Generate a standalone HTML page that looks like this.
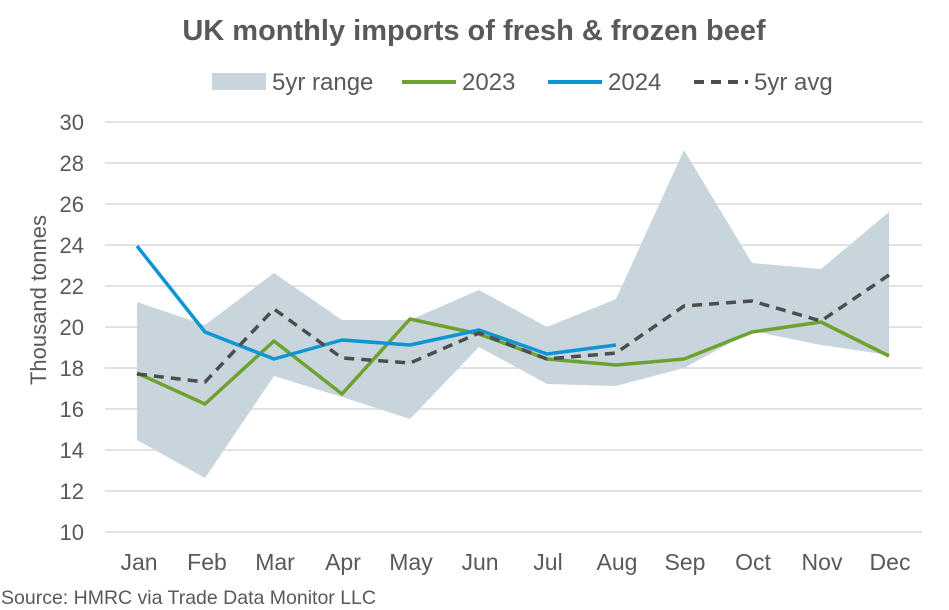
<!DOCTYPE html>
<html><head><meta charset="utf-8"><style>
body{margin:0;background:#fff}
svg{display:block;font-family:"Liberation Sans",Arial,sans-serif}
</style></head><body>
<svg width="949" height="610" viewBox="0 0 949 610">
<text x="474" y="40" text-anchor="middle" font-size="29" font-weight="bold" fill="#595959">UK monthly imports of fresh &amp; frozen beef</text>
<g font-size="24" fill="#595959">
<rect x="212" y="73" width="54" height="17" fill="#c9d5dc"/><text x="272" y="90">5yr range</text>
<line x1="402" y1="82" x2="456" y2="82" stroke="#6ea22e" stroke-width="4"/><text x="462" y="90">2023</text>
<line x1="548" y1="82" x2="602" y2="82" stroke="#0b95d5" stroke-width="4"/><text x="608" y="90">2024</text>
<line x1="694" y1="82" x2="748" y2="82" stroke="#4d4d4d" stroke-width="4" stroke-dasharray="10,7"/><text x="754" y="90">5yr avg</text>
</g>
<g stroke="#d9d9d9" stroke-width="1.5">
<line x1="105" x2="922" y1="122" y2="122"/><line x1="105" x2="922" y1="163" y2="163"/><line x1="105" x2="922" y1="204" y2="204"/><line x1="105" x2="922" y1="245" y2="245"/><line x1="105" x2="922" y1="286" y2="286"/><line x1="105" x2="922" y1="327" y2="327"/><line x1="105" x2="922" y1="368" y2="368"/><line x1="105" x2="922" y1="409" y2="409"/><line x1="105" x2="922" y1="450" y2="450"/><line x1="105" x2="922" y1="491" y2="491"/><line x1="105" x2="922" y1="532" y2="532"/>
</g>
<g font-size="22" fill="#595959" text-anchor="end">
<text x="84" y="130">30</text><text x="84" y="171">28</text><text x="84" y="212">26</text><text x="84" y="253">24</text><text x="84" y="294">22</text><text x="84" y="335">20</text><text x="84" y="376">18</text><text x="84" y="417">16</text><text x="84" y="458">14</text><text x="84" y="499">12</text><text x="84" y="540">10</text>
</g>
<text transform="translate(46,300) rotate(-90)" text-anchor="middle" font-size="22" fill="#595959">Thousand tonnes</text>
<polygon fill="#c9d5dc" points="137,302 205,325 274,273 342,320 410,320 479,290 547,327 616,299 684,150 752,263 821,269 889,212 889,355 821,345 752,331 684,368 616,386 547,384 479,347 410,419 342,397 274,376 205,478 137,440"/>
<polyline fill="none" stroke="#6ea22e" stroke-width="3.5" stroke-linejoin="round" points="137,373 205,404 274,341 342,394 410,319 479,334 547,359 616,365 684,359 752,332 821,322 889,356"/>
<polyline fill="none" stroke="#0b95d5" stroke-width="3.5" stroke-linejoin="round" points="137,246 205,332 274,359 342,340 410,345 479,330 547,354 616,345"/>
<polyline fill="none" stroke="#4d4d4d" stroke-width="3.5" stroke-dasharray="10,7" stroke-linejoin="round" points="137,374 205,382 274,309 342,358 410,363 479,333 547,359 616,353 684,306 752,301 821,321 889,275"/>
<g font-size="23" fill="#595959" text-anchor="middle">
<text x="139" y="570">Jan</text><text x="207" y="570">Feb</text><text x="275" y="570">Mar</text><text x="343" y="570">Apr</text><text x="411" y="570">May</text><text x="480" y="570">Jun</text><text x="548" y="570">Jul</text><text x="617" y="570">Aug</text><text x="685" y="570">Sep</text><text x="753" y="570">Oct</text><text x="822" y="570">Nov</text><text x="890" y="570">Dec</text>
</g>
<text x="1" y="604" font-size="19.5" fill="#595959">Source: HMRC via Trade Data Monitor LLC</text>
</svg>
</body></html>
